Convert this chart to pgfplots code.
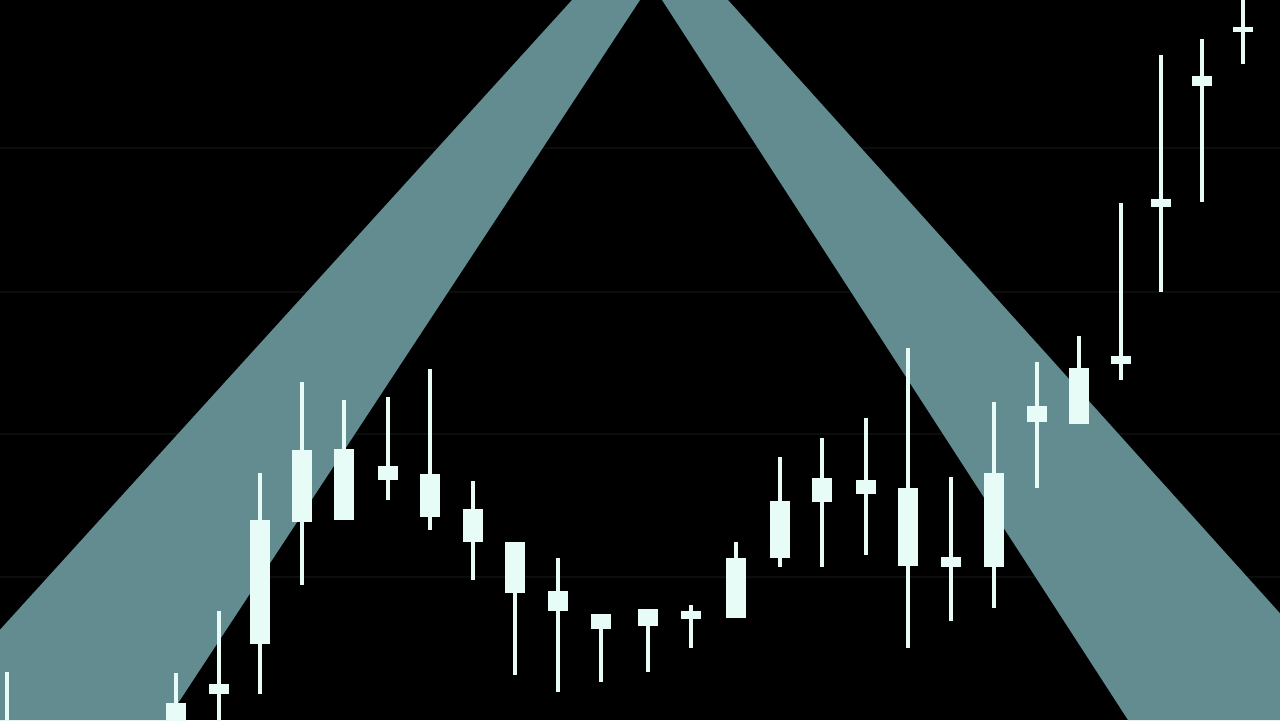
\documentclass[border=0pt]{standalone}
\usepackage{pgfplots}
\pgfplotsset{compat=1.18}
\definecolor{band}{RGB}{98,140,144}
\definecolor{candle}{RGB}{232,252,247}
\definecolor{gridc}{RGB}{13,13,13}
\begin{document}
\begin{tikzpicture}
\begin{axis}[name=ax,
  scale only axis, width=640pt, height=360pt,
  xmin=0, xmax=1280, ymin=0, ymax=720, y dir=reverse,
  axis line style={draw=none},
  axis background/.style={fill=black},
  xtick=\empty, ytick={148,292,434,577}, yticklabels={},
  tick style={draw=none},
  ymajorgrids, grid style={color=gridc, line width=0.8pt},
  unbounded coords=jump, clip=true]
% bands
\addplot[fill=band, draw=none] coordinates {(572,0) (640,0) (167,720) (-82,720)} -- cycle;
\addplot[fill=band, draw=none] coordinates {(662,0) (728,0) (1376,720) (1128,720)} -- cycle;
% wicks (x, high) -- (x, low)
\addplot[candle, line width=1.8pt, line cap=butt, mark=none] coordinates {
(7,672)(7,770)(7,nan)
(176,673)(176,750)(176,nan)
(219,611)(219,740)(219,nan)
(260,473)(260,694)(260,nan)
(302,382)(302,585)(302,nan)
(344,400)(344,520)(344,nan)
(388,397)(388,500)(388,nan)
(430,369)(430,530)(430,nan)
(473,481)(473,580)(473,nan)
(515,542)(515,675)(515,nan)
(558,558)(558,692)(558,nan)
(601,614)(601,682)(601,nan)
(648,609)(648,672)(648,nan)
(691,605)(691,648)(691,nan)
(736,542)(736,618)(736,nan)
(780,457)(780,567)(780,nan)
(822,438)(822,567)(822,nan)
(866,418)(866,555)(866,nan)
(908,348)(908,648)(908,nan)
(951,477)(951,621)(951,nan)
(994,402)(994,608)(994,nan)
(1037,362)(1037,488)(1037,nan)
(1079,336)(1079,424)(1079,nan)
(1121,203)(1121,380)(1121,nan)
(1161,55)(1161,292)(1161,nan)
(1202,39)(1202,202)(1202,nan)
(1243,-10)(1243,64)
};
% bodies (x, top) -- (x, bottom)
\addplot[candle, line width=9.7pt, line cap=butt, mark=none] coordinates {
(7,740)(7,760)(7,nan)
(176,703)(176,740)(176,nan)
(219,684)(219,694)(219,nan)
(260,520)(260,644)(260,nan)
(302,450)(302,522)(302,nan)
(344,449)(344,520)(344,nan)
(388,466)(388,480)(388,nan)
(430,474)(430,517)(430,nan)
(473,509)(473,542)(473,nan)
(515,542)(515,593)(515,nan)
(558,591)(558,611)(558,nan)
(601,614)(601,629)(601,nan)
(648,609)(648,626)(648,nan)
(691,611)(691,619)(691,nan)
(736,558)(736,618)(736,nan)
(780,501)(780,558)(780,nan)
(822,478)(822,502)(822,nan)
(866,480)(866,494)(866,nan)
(908,488)(908,566)(908,nan)
(951,557)(951,567)(951,nan)
(994,473)(994,567)(994,nan)
(1037,406)(1037,422)(1037,nan)
(1079,368)(1079,424)(1079,nan)
(1121,356)(1121,364)(1121,nan)
(1161,199)(1161,207)(1161,nan)
(1202,76)(1202,86)(1202,nan)
(1243,27)(1243,32)
};
\end{axis}
\pgfresetboundingbox
\path[use as bounding box] (ax.south west) rectangle (ax.north east);
\end{tikzpicture}
\end{document}
